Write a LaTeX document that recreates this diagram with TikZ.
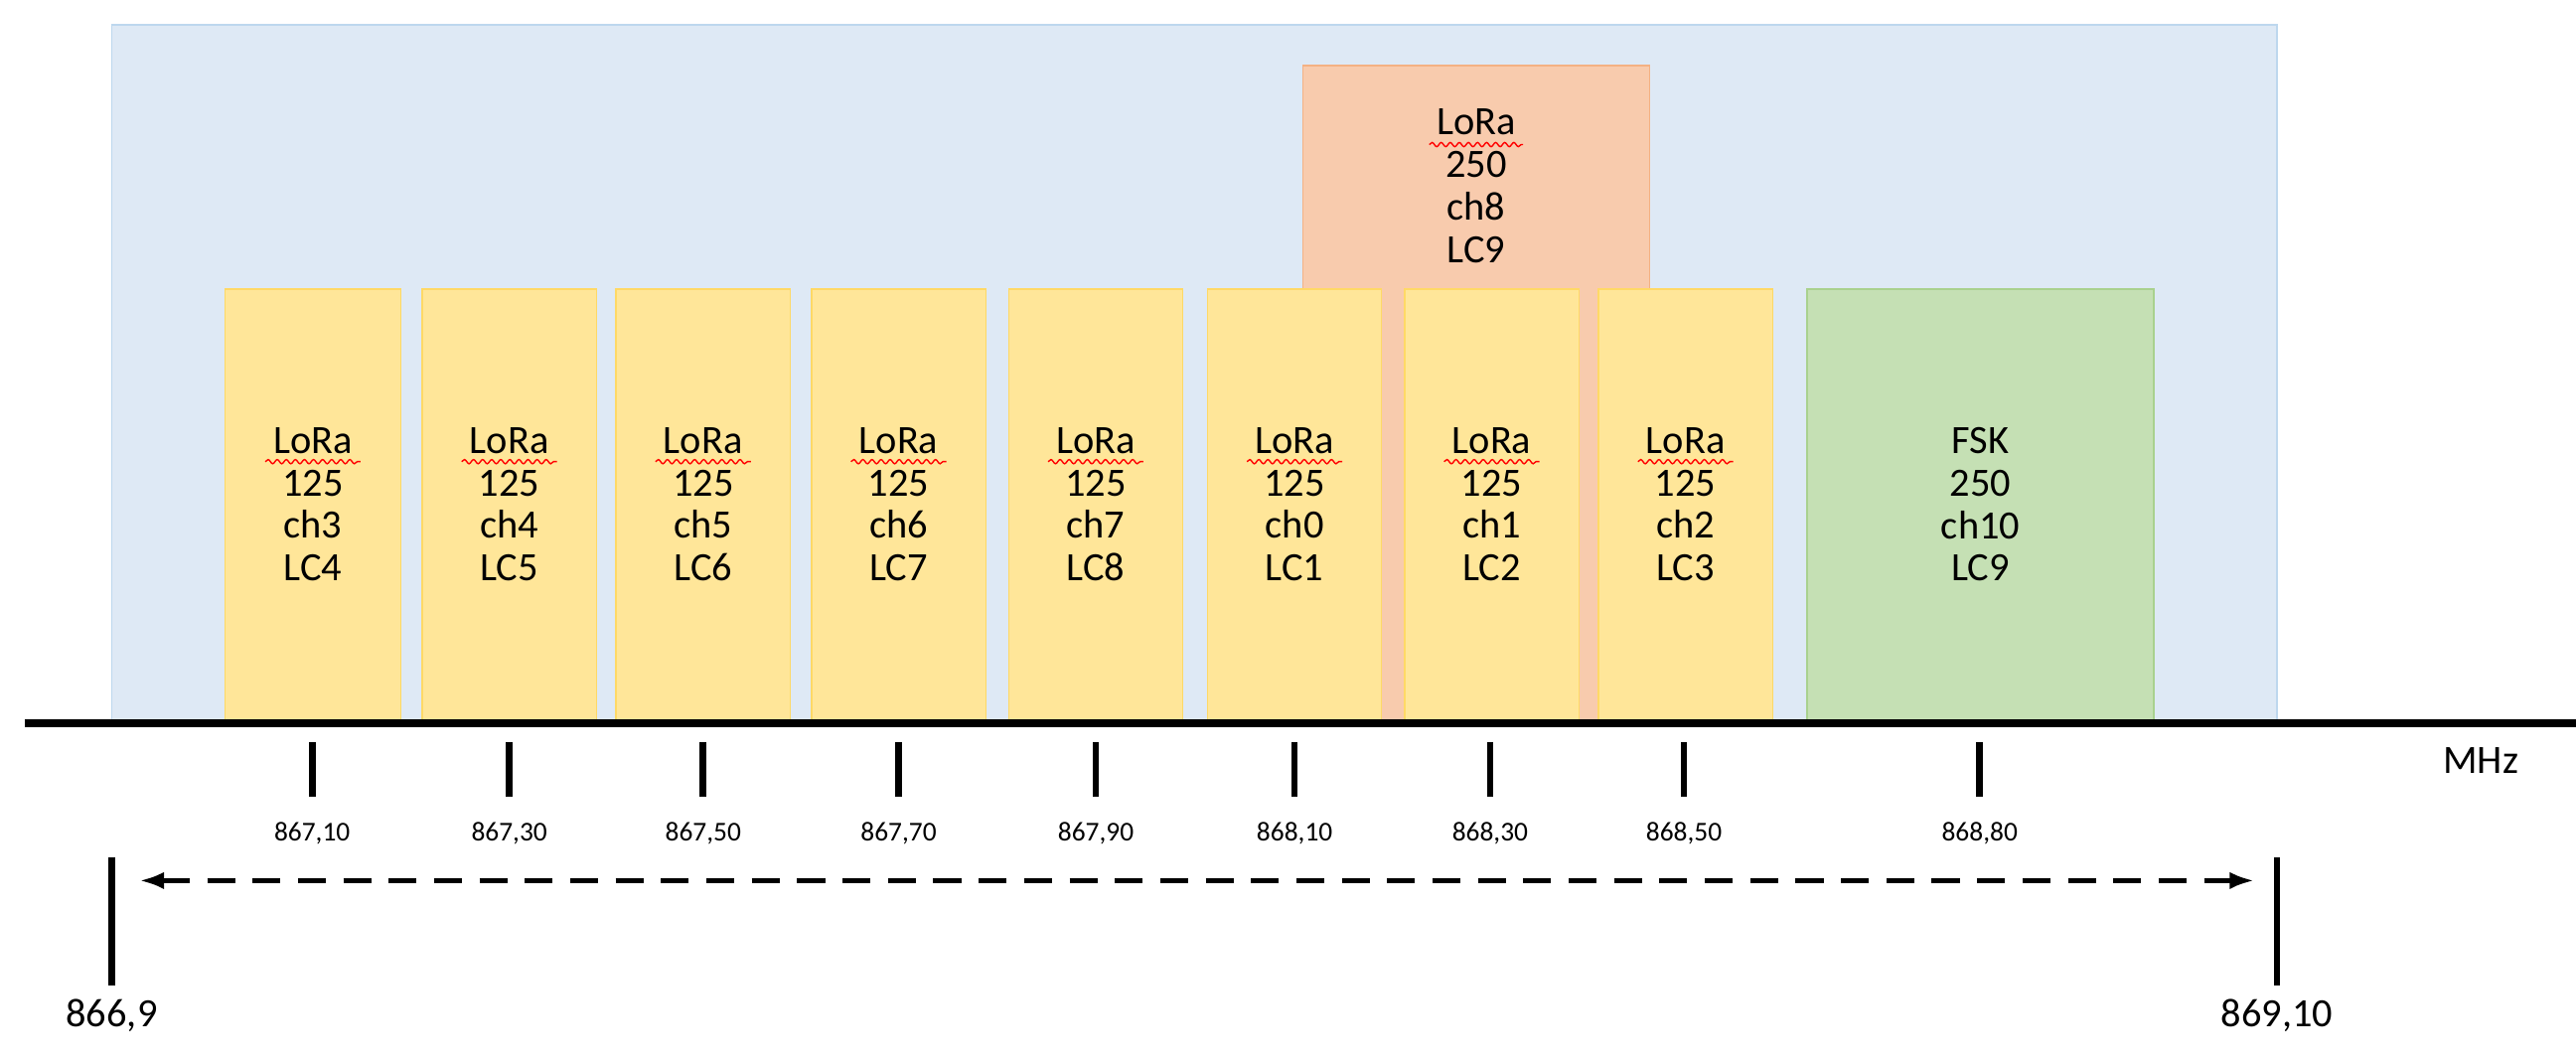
\documentclass[tikz,border=0pt]{standalone}
\usepackage{fontspec}
\setmainfont{Carlito}
\usetikzlibrary{arrows.meta,decorations.pathmorphing}
\definecolor{bgblue}{HTML}{DEE9F5}
\definecolor{bgedge}{HTML}{BDD7EE}
\definecolor{ylw}{HTML}{FFE699}
\definecolor{ylwedge}{HTML}{FFD966}
\definecolor{org}{HTML}{F8CBAD}
\definecolor{orgedge}{HTML}{F4B183}
\definecolor{grn}{HTML}{C5E0B4}
\definecolor{grnedge}{HTML}{A9D18E}
\tikzset{
  chtext/.style={align=center,font=\fontsize{11.5}{12.2}\selectfont,inner sep=0pt},
  ticklab/.style={font=\fontsize{7.8}{8}\selectfont,inner sep=0pt},
  biglab/.style={font=\fontsize{11.5}{12}\selectfont,inner sep=0pt},
  tickline/.style={line width=1.9pt},
  wavy/.style={red,line width=0.4pt,decorate,decoration={snake,amplitude=0.6pt,segment length=2.6pt}}
}
\begin{document}
\begin{tikzpicture}[x=0.01654cm,y=-0.01654cm]
\useasboundingbox (0,0) rectangle (1568,646);
\fill[bgblue,draw=bgedge] (68,15) rectangle (1386,440);
\fill[org,draw=orgedge] (793,40) rectangle (1004,440);
\node[chtext] (c8) at (898.5,113) {LoRa\\250\\ch8\\LC9};
\draw[wavy] (870,88) -- (927,88);
\foreach \xa/\xb/\ch/\lc [count=\i] in {137/244/3/4,257/363/4/5,375/481/5/6,494/600/6/7,614/720/7/8,735/841/0/1,855/961/1/2,973/1079/2/3}{
  \fill[ylw,draw=ylwedge] (\xa,176) rectangle (\xb,440);
  \node[chtext] (b\i) at ({(\xa+\xb)/2},307) {LoRa\\125\\ch\ch\\LC\lc};
  \draw[wavy] ({(\xa+\xb)/2-29},281) -- ({(\xa+\xb)/2+29},281);
}
\fill[grn,draw=grnedge] (1100,176) rectangle (1311,440);
\node[chtext] (fsk) at (1205.5,307) {FSK\\250\\ch10\\LC9};
\draw[line width=2.2pt] (15,440) -- (2553,440);
\node[biglab] (mhz) at (1510,463) {MHz};
\foreach \x/\l [count=\i] in {190/867{,}10,310/867{,}30,428/867{,}50,547/867{,}70,667/867{,}90,788/868{,}10,907/868{,}30,1025/868{,}50,1205/868{,}80}{
  \coordinate (t\i a) at (\x,452); \coordinate (t\i b) at (\x,485);
  \draw[tickline] (t\i a) -- (t\i b);
  \node[ticklab] (l\i) at (\x,507) {\l};
}
\coordinate (La) at (68,522); \coordinate (Lb) at (68,600);
\coordinate (Ra) at (1386,522); \coordinate (Rb) at (1386,600);
\draw[tickline] (La) -- (Lb);
\draw[tickline] (Ra) -- (Rb);
\node[biglab] (lo) at (68,618) {866,9};
\node[biglab] (hi) at (1386,618) {869,10};
\coordinate (aL) at (85,536); \coordinate (aR) at (1372,536);
\draw[line width=1.3pt,dash pattern=on 8pt off 5pt,{Latex[length=7pt,width=5pt]}-{Latex[length=7pt,width=5pt]}] (aL) -- (aR);
\end{tikzpicture}
\end{document}
